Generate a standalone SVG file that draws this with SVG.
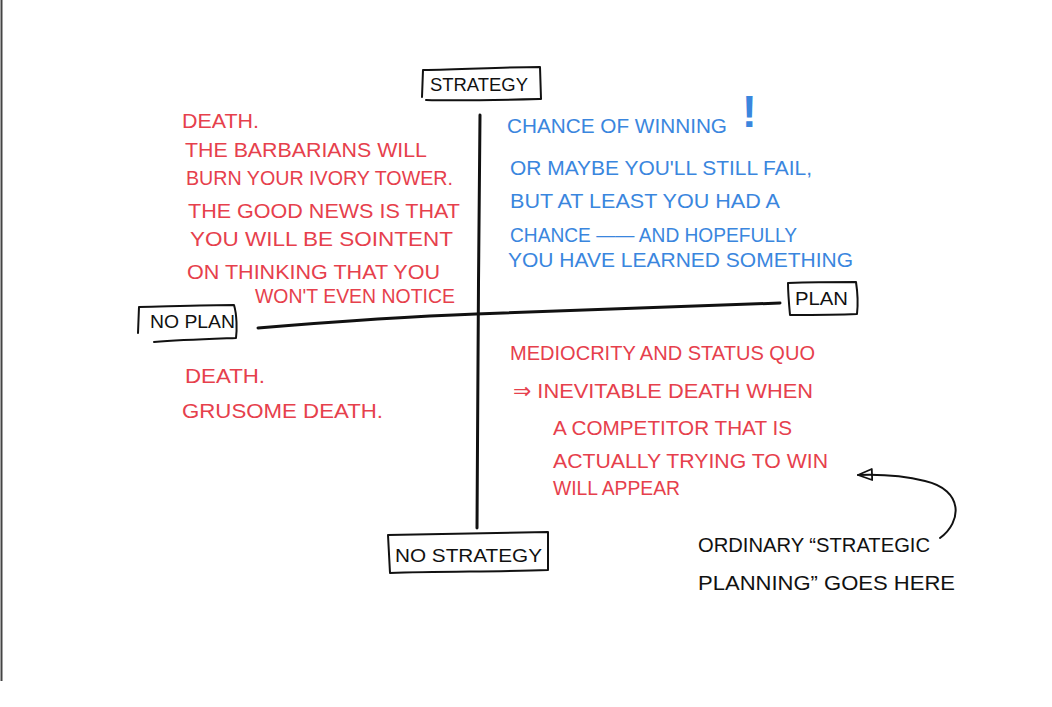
<svg xmlns="http://www.w3.org/2000/svg" width="1052" height="707" viewBox="0 0 1052 707">
<style>
.t{font-family:"Liberation Sans","DejaVu Sans",sans-serif;font-size:21px;}
.red{fill:#e6404c;}
.blue{fill:#3a86de;}
.blk{fill:#111;}
.lbl{font-family:"Liberation Sans","DejaVu Sans",sans-serif;font-size:19px;fill:#111;}
.box{fill:none;stroke:#111;stroke-width:2;stroke-linejoin:round;stroke-linecap:round;}
.axis{fill:none;stroke:#111;stroke-width:3;stroke-linecap:round;}
</style>
<defs>
<marker id="ah" viewBox="0 0 16 14" refX="15" refY="7" markerWidth="16" markerHeight="14" markerUnits="userSpaceOnUse" orient="auto">
<path d="M1 1.5 L15 7 L1 12.5 Z" fill="none" stroke="#111" stroke-width="1.8" stroke-linejoin="round"/>
</marker>
</defs>
<rect width="1052" height="707" fill="#fff"/>
<line x1="1.5" y1="0" x2="1.5" y2="681" stroke="#444" stroke-width="2"/>

<g id="connectors">
<path class="axis" d="M480 115 C479 250 477 400 477 528"/>
<path class="axis" d="M258 328 C330 322 420 316 476 314 C600 309 700 305 780 303"/>
<path d="M940 538 C962 522 964 490 925 481 C905 476 885 474 858 475" fill="none" stroke="#111" stroke-width="2" stroke-linecap="round" marker-end="url(#ah)"/>
</g>

<g id="strategy">
<path class="box" d="M423 70 C470 69 510 67 540 67 L541 99 C500 100 460 101 426 100 M423 70 L422 97"/>
<text class="lbl" x="430" y="91" textLength="98" lengthAdjust="spacingAndGlyphs">STRATEGY</text>
</g>

<g id="no-strategy">
<path class="box" d="M388 535 C450 534 500 533 548 532 L548 570 C500 572 440 571 390 573 Z"/>
<text class="lbl" x="395" y="562" textLength="147" lengthAdjust="spacingAndGlyphs">NO STRATEGY</text>
</g>

<g id="no-plan">
<path class="box" d="M139 307 C180 306 210 305 234 305 C237 315 237 330 236 338 C210 339 180 340 154 342 M139 307 L138 333"/>
<text class="lbl" x="150" y="328" textLength="85" lengthAdjust="spacingAndGlyphs">NO PLAN</text>
</g>

<g id="plan">
<path class="box" d="M788 283 C815 282 840 282 856 282 C858 295 858 305 857 314 C835 315 810 315 790 315 C789 304 788 293 788 283 Z"/>
<text class="lbl" x="795" y="305" textLength="53" lengthAdjust="spacingAndGlyphs">PLAN</text>
</g>

<g id="no-strategy-plan-quadrant">
<text class="t red" x="182" y="128" textLength="77" lengthAdjust="spacingAndGlyphs">DEATH.</text>
<text class="t red" x="185" y="157" textLength="242" lengthAdjust="spacingAndGlyphs">THE BARBARIANS WILL</text>
<text class="t red" x="186" y="185" textLength="267" lengthAdjust="spacingAndGlyphs">BURN YOUR IVORY TOWER.</text>
<text class="t red" x="188" y="218" textLength="272" lengthAdjust="spacingAndGlyphs">THE GOOD NEWS IS THAT</text>
<text class="t red" x="190" y="246" textLength="263" lengthAdjust="spacingAndGlyphs">YOU WILL BE SOINTENT</text>
<text class="t red" x="187" y="279" textLength="253" lengthAdjust="spacingAndGlyphs">ON THINKING THAT YOU</text>
<text class="t red" x="255" y="303" textLength="200" lengthAdjust="spacingAndGlyphs">WON'T EVEN NOTICE</text>
</g>

<g id="strategy-plan-quadrant">
<text class="t blue" x="507" y="133" textLength="220" lengthAdjust="spacingAndGlyphs">CHANCE OF WINNING</text>
<text x="742" y="127" font-family="Liberation Sans, sans-serif" font-size="44" font-weight="bold" class="blue">!</text>
<text class="t blue" x="510" y="175" textLength="302" lengthAdjust="spacingAndGlyphs">OR MAYBE YOU'LL STILL FAIL,</text>
<text class="t blue" x="510" y="208" textLength="270" lengthAdjust="spacingAndGlyphs">BUT AT LEAST YOU HAD A</text>
<text class="t blue" x="510" y="242" textLength="287" lengthAdjust="spacingAndGlyphs">CHANCE —— AND HOPEFULLY</text>
<text class="t blue" x="508" y="267" textLength="345" lengthAdjust="spacingAndGlyphs">YOU HAVE LEARNED SOMETHING</text>
</g>

<g id="no-plan-no-strategy-quadrant">
<text class="t red" x="185" y="383" textLength="80" lengthAdjust="spacingAndGlyphs">DEATH.</text>
<text class="t red" x="182" y="418" textLength="201" lengthAdjust="spacingAndGlyphs">GRUSOME DEATH.</text>
</g>

<g id="plan-no-strategy-quadrant">
<text class="t red" x="510" y="360" textLength="305" lengthAdjust="spacingAndGlyphs">MEDIOCRITY AND STATUS QUO</text>
<text class="t red" x="513" y="398" textLength="300" lengthAdjust="spacingAndGlyphs">⇒ INEVITABLE DEATH WHEN</text>
<text class="t red" x="553" y="435" textLength="239" lengthAdjust="spacingAndGlyphs">A COMPETITOR THAT IS</text>
<text class="t red" x="553" y="468" textLength="275" lengthAdjust="spacingAndGlyphs">ACTUALLY TRYING TO WIN</text>
<text class="t red" x="553" y="495" textLength="127" lengthAdjust="spacingAndGlyphs">WILL APPEAR</text>
</g>

<g id="annotation">
<text class="t blk" x="698" y="552" textLength="232" lengthAdjust="spacingAndGlyphs">ORDINARY “STRATEGIC</text>
<text class="t blk" x="698" y="590" textLength="257" lengthAdjust="spacingAndGlyphs">PLANNING” GOES HERE</text>
</g>
</svg>
